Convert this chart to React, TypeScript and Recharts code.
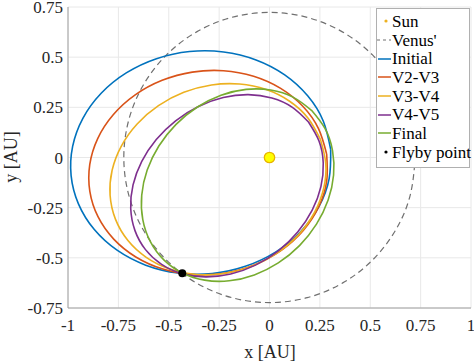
import React from 'react';
import { ComposedChart, Line, Scatter, XAxis, YAxis, CartesianGrid, Legend, Label } from 'recharts';

const FONT = 'Liberation Serif, Times New Roman, serif';

const xTicks = [-1, -0.75, -0.5, -0.25, 0, 0.25, 0.5, 0.75, 1];
const yTicks = [-0.75, -0.5, -0.25, 0, 0.25, 0.5, 0.75];

const sunPoint = [[0, 0]];
const flybyPoint = [[-0.433, -0.577]];

const venusOrbit = [
  [0.723, 0], [0.6984, 0.1871], [0.6261, 0.3615], [0.5112, 0.5112], [0.3615, 0.6261], [0.1871, 0.6984],
  [0, 0.723], [-0.1871, 0.6984], [-0.3615, 0.6261], [-0.5112, 0.5112], [-0.6261, 0.3615], [-0.6984, 0.1871],
  [-0.723, 0], [-0.6984, -0.1871], [-0.6261, -0.3615], [-0.5112, -0.5112], [-0.3615, -0.6261], [-0.1871, -0.6984],
  [0, -0.723], [0.1871, -0.6984], [0.3615, -0.6261], [0.5112, -0.5112], [0.6261, -0.3615], [0.6984, -0.1871],
  [0.723, 0],
];

const initialOrbit = [
  [0.3036, 0.04], [0.2672, 0.1809], [0.1894, 0.3078], [0.0755, 0.412], [-0.0667, 0.4864], [-0.2277, 0.5259],
  [-0.3963, 0.528], [-0.5611, 0.4923], [-0.7109, 0.4214], [-0.8354, 0.3201], [-0.9262, 0.1952], [-0.977, 0.0553],
  [-0.9846, -0.09], [-0.9482, -0.2309], [-0.8704, -0.3578], [-0.7565, -0.462], [-0.6143, -0.5364], [-0.4533, -0.5759],
  [-0.2847, -0.578], [-0.1199, -0.5423], [0.0299, -0.4714], [0.1544, -0.3701], [0.2452, -0.2452], [0.296, -0.1053],
  [0.3036, 0.04],
];

const v2v3Orbit = [
  [0.2836, 0.0175], [0.2431, 0.1441], [0.1652, 0.2556], [0.0554, 0.3446], [-0.0789, 0.405], [-0.2285, 0.4326],
  [-0.3833, 0.4256], [-0.5327, 0.3844], [-0.6665, 0.312], [-0.7756, 0.213], [-0.8526, 0.0945], [-0.8921, -0.0357],
  [-0.8916, -0.1685], [-0.8511, -0.2951], [-0.7732, -0.4066], [-0.6634, -0.4956], [-0.5291, -0.556], [-0.3795, -0.5836],
  [-0.2247, -0.5766], [-0.0753, -0.5354], [0.0585, -0.463], [0.1676, -0.364], [0.2446, -0.2455], [0.2841, -0.1153],
  [0.2836, 0.0175],
];

const v3v4Orbit = [
  [0.2526, 0.0903], [0.1915, 0.1956], [0.0998, 0.2803], [-0.0161, 0.3383], [-0.1483, 0.366], [-0.2879, 0.3613],
  [-0.4253, 0.3246], [-0.5511, 0.2584], [-0.6569, 0.1672], [-0.7353, 0.0571], [-0.7812, -0.0641], [-0.7911, -0.1884],
  [-0.7646, -0.3073], [-0.7035, -0.4126], [-0.6118, -0.4973], [-0.4959, -0.5553], [-0.3637, -0.583], [-0.2241, -0.5783],
  [-0.0867, -0.5416], [0.0391, -0.4754], [0.1449, -0.3842], [0.2233, -0.2741], [0.2692, -0.1529], [0.2791, -0.0286],
  [0.2526, 0.0903],
];

const v4v5Orbit = [
  [0.1934, 0.1771], [0.1136, 0.2502], [0.0118, 0.2966], [-0.1052, 0.3131], [-0.2295, 0.2988], [-0.3525, 0.2544],
  [-0.4659, 0.1831], [-0.5619, 0.0898], [-0.6339, -0.0193], [-0.6772, -0.1367], [-0.6887, -0.2545], [-0.6676, -0.3644],
  [-0.6154, -0.4591], [-0.5356, -0.5322], [-0.4338, -0.5786], [-0.3168, -0.5951], [-0.1925, -0.5808], [-0.0695, -0.5364],
  [0.0439, -0.4651], [0.1399, -0.3718], [0.2119, -0.2627], [0.2552, -0.1453], [0.2667, -0.0275], [0.2456, 0.0824],
  [0.1934, 0.1771],
];

const finalOrbit = [
  [0.2084, 0.2353], [0.1165, 0.3007], [0.0059, 0.3362], [-0.1159, 0.3394], [-0.2406, 0.3101], [-0.3596, 0.2503],
  [-0.4649, 0.1641], [-0.5492, 0.0573], [-0.607, -0.0627], [-0.6341, -0.1878], [-0.6288, -0.3096], [-0.5913, -0.4196],
  [-0.5244, -0.5103], [-0.4325, -0.5757], [-0.3219, -0.6112], [-0.2001, -0.6144], [-0.0754, -0.5851], [0.0436, -0.5253],
  [0.1489, -0.4391], [0.2332, -0.3323], [0.291, -0.2123], [0.3181, -0.0872], [0.3128, 0.0346], [0.2753, 0.1446],
  [0.2084, 0.2353],
];

const toRows = (pts: number[][]) => pts.map(([x, y]) => ({ x, y }));

const orbitSeries = [
  { name: 'Initial', color: '#0072BD', pts: initialOrbit },
  { name: 'V2-V3', color: '#D95319', pts: v2v3Orbit },
  { name: 'V3-V4', color: '#EDB120', pts: v3v4Orbit },
  { name: 'V4-V5', color: '#7E2F8E', pts: v4v5Orbit },
  { name: 'Final', color: '#77AC30', pts: finalOrbit },
];

const legendItems = [
  { name: 'Sun', kind: 'dot', color: '#EDB120' },
  { name: "Venus'", kind: 'dash', color: '#707070' },
  ...orbitSeries.map((s) => ({ name: s.name, kind: 'line', color: s.color })),
  { name: 'Flyby point', kind: 'dot', color: '#000000' },
];

const LegendBox = () => (
  <div
    style={{
      width: 92,
      height: 155,
      border: '1px solid #b0b0b0',
      background: '#ffffff',
      fontFamily: FONT,
      fontSize: 17,
      color: '#000',
      paddingTop: 3,
      boxSizing: 'content-box',
    }}
  >
    {legendItems.map((it) => (
      <div
        key={it.name}
        style={{ height: 18.7, display: 'flex', alignItems: 'center', whiteSpace: 'nowrap', fontFamily: FONT }}
      >
        <svg width={15} height={10} style={{ flex: '0 0 auto' }}>
          {it.kind === 'dot' && <circle cx={9} cy={5} r={1.6} fill={it.color} />}
          {it.kind === 'line' && <line x1={1} x2={14} y1={5} y2={5} stroke={it.color} strokeWidth={1.5} />}
          {it.kind === 'dash' && (
            <line x1={0} x2={14} y1={5} y2={5} stroke={it.color} strokeWidth={1} strokeDasharray="3 3" />
          )}
        </svg>
        <span style={{ lineHeight: '17px', fontFamily: FONT }}>{it.name}</span>
      </div>
    ))}
  </div>
);

const SunShape = (props: any) => (
  <circle cx={props.cx} cy={props.cy} r={5.2} fill="#FFFF00" stroke="#E8B400" strokeWidth={1.3} />
);
const FlybyShape = (props: any) => <circle cx={props.cx} cy={props.cy} r={4} fill="#000000" />;

const XTick = (props: any) => {
  const { x, y, payload } = props;
  return (
    <text x={x} y={y + 14} textAnchor="middle" fontFamily={FONT} fontSize={17} fill="#262626" style={{ fontFamily: FONT }}>
      {String(payload.value)}
    </text>
  );
};

const YTick = (props: any) => {
  const { x, y, payload } = props;
  return (
    <text x={x} y={y + 6} textAnchor="end" fontFamily={FONT} fontSize={17} fill="#262626" style={{ fontFamily: FONT }}>
      {String(payload.value)}
    </text>
  );
};

export default function App() {
  return (
    <div style={{ position: 'absolute', left: 0, top: 0, width: 474, height: 362, background: '#fff' }}>
      <ComposedChart width={474} height={362} margin={{ top: 7, right: 3, bottom: 0, left: 0 }}>
        <CartesianGrid stroke="#e8e8e8" strokeWidth={1} />
        <XAxis
          type="number"
          dataKey="x"
          domain={[-1, 1]}
          ticks={xTicks}
          allowDataOverflow
          height={54}
          tickLine={false}
          tickSize={0}
          tickMargin={9}
          stroke="#a0a0a0"
          tick={XTick}
          interval={0}
        >
          <Label
            content={() => (
              <text x={270} y={358} textAnchor="middle" fontFamily={FONT} fontSize={18} fill="#262626">
                x [AU]
              </text>
            )}
          />
        </XAxis>
        <YAxis
          type="number"
          dataKey="y"
          domain={[-0.75, 0.75]}
          ticks={yTicks}
          allowDataOverflow
          width={68}
          tickLine={false}
          tickSize={0}
          tickMargin={5}
          stroke="#a0a0a0"
          tick={YTick}
          interval={0}
        >
          <Label
            content={() => (
              <text
                x={17}
                y={157}
                transform="rotate(-90 17 157)"
                textAnchor="middle"
                fontFamily={FONT}
                fontSize={18}
                fill="#262626"
              >
                y [AU]
              </text>
            )}
          />
        </YAxis>
        <Scatter data={toRows(sunPoint)} dataKey="y" shape={SunShape} isAnimationActive={false} />
        <Line
          data={toRows(venusOrbit)}
          dataKey="y"
          type="natural"
          stroke="#707070"
          strokeWidth={1.2}
          strokeDasharray="6 4"
          dot={false}
          activeDot={false}
          isAnimationActive={false}
        />
        {orbitSeries.map((s) => (
          <Line
            key={s.name}
            data={toRows(s.pts)}
            dataKey="y"
            type="natural"
            stroke={s.color}
            strokeWidth={1.6}
            dot={false}
            activeDot={false}
            isAnimationActive={false}
          />
        ))}
        <Scatter data={toRows(flybyPoint)} dataKey="y" shape={FlybyShape} isAnimationActive={false} />
        <Legend
          layout="vertical"
          align="center"
          verticalAlign="middle"
          content={LegendBox}
          wrapperStyle={{ left: 376, top: 8, width: 94 }}
        />
      </ComposedChart>
    </div>
  );
}
